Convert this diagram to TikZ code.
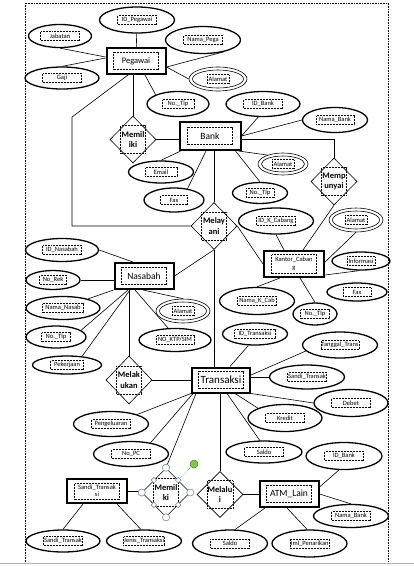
\documentclass[tikz,border=0pt]{standalone}
\usepackage{fontspec}
\setmainfont{Carlito}
\usetikzlibrary{shapes.geometric}
\definecolor{handlegray}{HTML}{7C8CA3}
\definecolor{rotgreen}{HTML}{7AC943}
\definecolor{rotgreendark}{HTML}{4E8A2A}
\definecolor{pageline}{HTML}{B4B4B4}
\newcommand{\atfont}{\fontsize{6.5}{7.5}\selectfont}
\newcommand{\enfont}{\fontsize{9.5}{11}\selectfont}
\newcommand{\relfont}{\fontsize{8.5}{10.5}\selectfont\bfseries}
\tikzset{
  entity/.style={rectangle,draw,line width=2pt,inner sep=0pt},
  attr/.style={ellipse,draw,line width=1.3pt,inner sep=0pt},
  multi/.style={ellipse,draw,line width=0.6pt,inner sep=0pt},
  rel/.style={diamond,draw,line width=0.6pt,inner sep=0pt},
  tbox/.style={draw,densely dotted,line width=0.5pt,inner sep=0.5pt,align=center},
  atxt/.style={tbox,font=\atfont,minimum width=39pt,minimum height=9pt},
  etxt/.style={tbox,font=\enfont,minimum width=45pt,minimum height=17pt},
  rtxt/.style={tbox,font=\relfont,minimum width=25pt,minimum height=28pt},
  link/.style={line width=0.6pt},
  handle/.style={draw=handlegray,fill=white,line width=0.6pt},
}
\begin{document}
\begin{tikzpicture}[x=1pt,y=-1pt]
\useasboundingbox (0,0) rectangle (414,566);
\fill[white] (0,0) rectangle (414,566);
% page frame
\draw[densely dotted,line width=0.6pt] (25,562) -- (25,3) -- (388,3) -- (388,562);
\draw[pageline,line width=1pt] (0,563.5) -- (414,563.5);

% entitas
\node[entity,minimum width=59pt,minimum height=26pt,label={[etxt,font=\fontsize{8.5}{10}\selectfont]center:Pegawai}] (peg) at (136,61) {};
\node[entity,minimum width=61pt,minimum height=28pt,label={[etxt]center:Bank}] (bank) at (210,136) {};
\node[entity,minimum width=60pt,minimum height=26pt,label={[etxt,font=\atfont,minimum height=19pt]center:{Kantor\_Caban\\g}}] (kc) at (294,264) {};
\node[entity,minimum width=59pt,minimum height=26pt,label={[etxt]center:Nasabah}] (nas) at (144,276) {};
\node[entity,minimum width=58pt,minimum height=25pt,label={[etxt,font=\fontsize{11}{13}\selectfont]center:Transaksi}] (trx) at (221,380) {};
\node[entity,minimum width=60pt,minimum height=24pt,label={[etxt,font=\atfont,minimum height=16pt]center:{Sandi\_Transak\\si}}] (ste) at (97,491) {};
\node[entity,minimum width=59pt,minimum height=26pt,label={[etxt]center:ATM\_Lain}] (atm) at (289,494) {};

% relasi
\node[rel,minimum width=46pt,minimum height=47pt,label={[rtxt]center:{Memil\\iki}}] (mem1) at (133,139.5) {};
\node[rel,minimum width=46pt,minimum height=47pt,label={[rtxt]center:{Melay\\ani}}] (mly) at (214,226) {};
\node[rel,minimum width=46pt,minimum height=47pt,label={[rtxt]center:{Memp\\unyai}}] (mpy) at (334,181.5) {};
\node[rel,minimum width=46pt,minimum height=48pt,label={[rtxt]center:{Melak\\ukan}}] (mlk) at (129,380) {};
\node[rel,minimum width=48pt,minimum height=49pt,label={[rtxt]center:{Memil\\ki}}] (mem2) at (166,492.5) {};
\node[rel,minimum width=46pt,minimum height=46pt,label={[rtxt]center:{Melalu\\i}}] (mll) at (220,494.5) {};

% atribut pegawai
\node[attr,minimum width=75pt,minimum height=26pt,label={[atxt]center:ID\_Pegawai}] (idpeg) at (137,20) {};
\node[attr,minimum width=63pt,minimum height=23pt,label={[atxt]center:Jabatan}] (jab) at (60,36) {};
\node[attr,minimum width=74pt,minimum height=22pt,label={[atxt]center:Gaji}] (gaji) at (62,78) {};
\node[attr,minimum width=75pt,minimum height=27pt,label={[atxt]center:Nama\_Pega}] (npeg) at (203,40) {};
\node[multi,minimum width=58pt,minimum height=24pt] (al1) at (218,79) {};
\node[multi,minimum width=51pt,minimum height=18pt,label={[atxt,minimum width=22pt]center:Alamat}] (al1in) at (al1) {};
\node[attr,minimum width=62pt,minimum height=25pt,label={[atxt,minimum width=32pt]center:No.\_Tlp}] (tlp1) at (178,104) {};

% atribut bank
\node[attr,minimum width=74pt,minimum height=25pt,label={[atxt]center:ID\_Bank}] (idb) at (263,104) {};
\node[attr,minimum width=65pt,minimum height=25pt,label={[atxt,minimum width=38pt]center:Nama\_Bank}] (nbk) at (335,120) {};
\node[attr,minimum width=65pt,minimum height=22pt,label={[atxt,minimum width=32pt]center:Email}] (eml) at (161,172) {};
\node[attr,minimum width=60pt,minimum height=24pt,label={[atxt,minimum width=27pt]center:Fax}] (fax1) at (174,200) {};
\node[multi,minimum width=50pt,minimum height=22pt] (al2) at (283,164) {};
\node[multi,minimum width=43pt,minimum height=16pt,label={[atxt,minimum width=22pt]center:Alamat}] (al2in) at (al2) {};
\node[attr,minimum width=55pt,minimum height=21pt,label={[atxt,minimum width=28pt]center:No.\_Tlp}] (tlp2) at (260,193) {};

% atribut kantor cabang
\node[attr,minimum width=75pt,minimum height=26pt,label={[atxt]center:ID\_K\_Cabang}] (idkc) at (276,221) {};
\node[multi,minimum width=54pt,minimum height=24pt] (al3) at (356,220) {};
\node[multi,minimum width=47pt,minimum height=18pt,label={[atxt,minimum width=22pt]center:Alamat}] (al3in) at (al3) {};
\node[attr,minimum width=58pt,minimum height=18pt,label={[atxt,minimum width=28pt]center:Informasi}] (inf) at (361,261) {};
\node[attr,minimum width=60pt,minimum height=18pt,label={[atxt,minimum width=28pt]center:Fax}] (fax2) at (357,292) {};
\node[attr,minimum width=75pt,minimum height=27pt,label={[atxt]center:Nama\_K\_Cab}] (nkc) at (257,301) {};
\node[attr,minimum width=44pt,minimum height=22pt,label={[atxt,minimum width=29pt]center:No.\_Tlp}] (tlp3) at (315,314) {};

% atribut nasabah
\node[attr,minimum width=73pt,minimum height=23pt,label={[atxt]center:ID\_Nasabah}] (idnas) at (62,250) {};
\node[attr,minimum width=54pt,minimum height=19pt,label={[atxt,minimum width=27pt]center:No\_Rek}] (norek) at (53,280) {};
\node[attr,minimum width=74pt,minimum height=23pt,label={[atxt,minimum width=41pt]center:Nama\_Nasab}] (nmnas) at (63,308) {};
\node[attr,minimum width=60pt,minimum height=22pt,label={[atxt,minimum width=29pt]center:No.\_Tlp}] (tlp4) at (56,337) {};
\node[attr,minimum width=69pt,minimum height=18pt,label={[atxt,minimum width=33pt]center:Pekerjaan}] (pek) at (67,365) {};
\node[multi,minimum width=54pt,minimum height=24pt] (al4) at (183,311) {};
\node[multi,minimum width=47pt,minimum height=18pt,label={[atxt,minimum width=22pt]center:Alamat}] (al4in) at (al4) {};
\node[attr,minimum width=72pt,minimum height=23pt,label={[atxt,minimum width=38pt]center:NO\_KTP/SIM}] (ktp) at (175,340) {};

% atribut transaksi
\node[attr,minimum width=65pt,minimum height=22pt,label={[atxt,minimum width=41pt]center:ID\_Transaksi}] (idtrx) at (255,334) {};
\node[attr,minimum width=75pt,minimum height=26pt,label={[atxt,minimum width=38pt]center:Tanggal\_Trans}] (tgl) at (340,345) {};
\node[attr,minimum width=75pt,minimum height=24pt,label={[atxt]center:Sandi\_Transak}] (sta) at (307,377) {};
\node[attr,minimum width=74pt,minimum height=27pt,label={[atxt]center:Debet}] (deb) at (351,403) {};
\node[attr,minimum width=74pt,minimum height=27pt,label={[atxt]center:Kredit}] (kre) at (285,418) {};
\node[attr,minimum width=76pt,minimum height=22pt,label={[atxt]center:Saldo}] (sal1) at (264,452) {};
\node[attr,minimum width=75pt,minimum height=25pt,label={[atxt]center:Pengeluaran}] (pgl) at (111,424) {};
\node[attr,minimum width=75pt,minimum height=25pt,label={[atxt]center:No\_PC}] (nopc) at (131,454) {};

% atribut sandi transaksi dan atm lain
\node[attr,minimum width=74pt,minimum height=22pt,label={[atxt]center:Sandi\_Transak}] (sta2) at (63,541) {};
\node[attr,minimum width=75pt,minimum height=22pt,label={[atxt,minimum width=38pt]center:Jenis\_Transaksi}] (jns) at (144,541) {};
\node[attr,minimum width=76pt,minimum height=27pt,label={[atxt]center:ID\_Bank}] (idb2) at (344,456) {};
\node[attr,minimum width=75pt,minimum height=23pt,label={[atxt]center:Nama\_Bank}] (nb2) at (351,516) {};
\node[attr,minimum width=75pt,minimum height=27pt,label={[atxt]center:Saldo}] (sal2) at (230,543.5) {};
\node[attr,minimum width=75pt,minimum height=27pt,label={[atxt]center:Jml\_Penarikan}] (jml) at (309.5,543.5) {};

% garis pegawai
\coordinate (bendA) at (72,117);
\coordinate (bendB) at (72,226);
\draw[link] (idpeg) -- (peg);
\draw[link] (jab.south) -- ([yshift=4pt]peg.west);
\draw[link] (gaji.north) -- ([yshift=3pt]peg.west);
\draw[link] ([yshift=-6pt]peg.east) -- (npeg.-30);
\draw[link] ([yshift=-6pt]peg.east) -- (al1.west);
\draw[link] ([xshift=9pt]peg.south) -- (tlp1.north west);
\draw[link] ([xshift=-3pt]peg.south) -- (mem1.north);
\draw[link] ([xshift=-8pt]peg.south) -- (bendA) -- (bendB) -- (mly.west);

% garis bank
\draw[link] (mem1.east) -- (mem1.east -| bank.west);
\draw[link] (bank.east) -- (idb.250);
\draw[link] (bank.east) -- (nbk.west);
\draw[link] ([yshift=-3pt]bank.east) -| (mpy.north);
\draw[link] ([xshift=2pt]bank.south west) -- (eml.north);
\draw[link] ([xshift=-4pt]bank.south) -- (fax1.40);
\draw[link] ([xshift=4pt]bank.south) -- (mly.north);
\draw[link] ([xshift=-3pt]bank.south east) -- (al2.150);
\draw[link] ([xshift=-6pt]bank.south east) -- (tlp2.north);

% garis kantor cabang
\draw[link] (mpy.south) -- ([xshift=9pt]kc.north);
\draw[link] (al3.south) -- ([yshift=2pt]kc.east);
\draw[link] (idkc.south) -- ([xshift=-10pt]kc.north);
\draw[link] (mly.east) -- (kc.west);
\draw[link] ([yshift=-11pt]kc.east) -- (inf.260);
\draw[link] ([xshift=-14pt]kc.south) -- (nkc.north);
\draw[link] ([xshift=6pt]kc.south) -- (tlp3.north);

% garis nasabah
\draw[link] (nas.east) -- (mly.south);
\draw[link] (idnas.east) -- ([xshift=-11pt]nas.north);
\draw[link] (norek.east) -- ([yshift=-4pt]nas.west);
\draw[link] (nmnas.20) -- (nas.south west);
\draw[link] (tlp4.15) -- ([xshift=-16pt]nas.south);
\draw[link] (pek.30) -- ([xshift=-14pt]nas.south);
\draw[link] ([xshift=-1pt]nas.south) -- (al4.north);
\draw[link] ([xshift=-9pt]nas.south) -- (ktp.120);
\draw[link] (mlk.north |- nas.south) -- (mlk.north);

% garis transaksi
\draw[link] (mlk.east) -- (mlk.east -| trx.west);
\draw[link] (mly.south) -- (mly.south |- trx.north);
\draw[link] ([xshift=9pt]trx.north) -- (idtrx.240);
\draw[link] ([yshift=5pt]trx.east) -- (tgl.190);
\draw[link] (sta.west -| trx.east) -- (sta.west);
\draw[link] (trx.south east) -- (deb.west);
\draw[link] ([xshift=14pt]trx.south) -- (kre.160);
\draw[link] ([xshift=6pt]trx.south) -- (sal1.110);
\draw[link] (trx.south west) -- (pgl.20);
\draw[link] ([xshift=2pt]trx.south west) -- (nopc.30);
\draw[link] ([xshift=5pt]trx.south west) -- (mem2.north);
\draw[link] (mll.north |- trx.south) -- (mll.north);

% garis bawah
\draw[link] (ste.east) -- (ste.east -| mem2.west);
\draw[link] ([xshift=-14pt]ste.south) -- (sta2.north);
\draw[link] ([xshift=20pt]ste.south) -- (jns.105);
\draw[link] (mll.east) -- (mll.east -| atm.west);
\draw[link] ([yshift=7pt]atm.east) -- (idb2.250);
\draw[link] (atm.east) -- (nb2.north);
\draw[link] ([xshift=-24pt]atm.south) -- (sal2.70);
\draw[link] ([xshift=-2pt]atm.south) -- (jml.100);

% handle seleksi
\coordinate (rot) at (194,464);
\draw[handlegray,densely dotted,line width=0.6pt] (mem2.north east) -- (rot);
\foreach \a in {north,south,east,west}
  \draw[handle] (mem2.\a) circle (3.6pt);
\foreach \a in {north east,north west,south east,south west}
  \draw[handle] (mem2.\a) +(-2.8,0) -- +(0,2.8) -- +(2.8,0) -- +(0,-2.8) -- cycle;
\draw[fill=rotgreen,draw=rotgreendark,line width=0.5pt] (rot) circle (4pt);
\end{tikzpicture}
\end{document}
